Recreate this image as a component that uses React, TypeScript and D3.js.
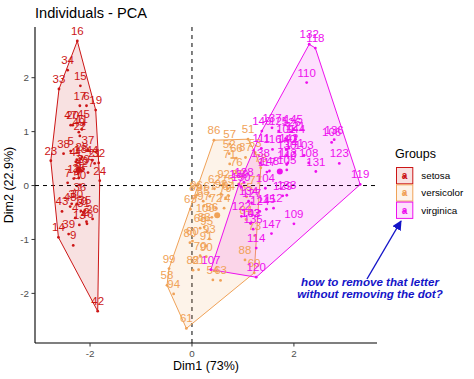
import React from "react";
import * as d3 from "d3";

// Individual coordinates (Dim1, Dim2) per species, observations 1-50, 51-100, 101-150
const setosaDim1 = [-2.26, -2.07, -2.36, -2.29, -2.38, -2.07, -2.44, -2.23, -2.33, -2.18,
  -2.16, -2.32, -2.21, -2.62, -2.19, -2.25, -2.20, -2.18, -1.89, -2.34,
  -1.91, -2.20, -2.77, -1.81, -2.22, -1.95, -2.04, -2.16, -2.13, -2.26,
  -2.13, -1.83, -2.61, -2.44, -2.10, -2.20, -2.04, -2.52, -2.42, -2.16,
  -2.28, -1.85, -2.55, -1.96, -2.13, -2.06, -2.38, -2.39, -2.22, -2.20];
const setosaDim2 = [0.48, -0.67, -0.34, -0.60, 0.64, 1.48, 0.05, 0.22, -1.11, -0.47,
  1.04, 0.13, -0.73, -0.96, 1.85, 2.68, 1.48, 0.49, 1.40, 1.12,
  0.41, 0.92, 0.46, 0.09, 0.14, -0.62, 0.24, 0.53, 0.31, -0.34,
  -0.50, 0.42, 1.79, 2.14, -0.46, -0.21, 0.66, 0.59, -0.90, 0.27,
  0.44, -2.33, -0.48, 0.47, 1.14, -0.71, 1.12, -0.39, 0.99, 0.01];
const versicolorDim1 = [1.10, 0.73, 1.24, 0.41, 1.07, 0.39, 0.74, -0.49, 0.92, 0.01,
  -0.11, 0.44, 0.56, 0.72, -0.03, 0.87, 0.35, 0.16, 1.22, 0.16,
  0.74, 0.47, 1.23, 0.63, 0.70, 0.87, 1.25, 1.35, 0.66, -0.04,
  0.13, 0.02, 0.24, 1.06, 0.22, 0.43, 1.05, 1.04, 0.07, 0.28,
  0.28, 0.62, 0.34, -0.36, 0.29, 0.09, 0.23, 0.57, -0.45, 0.26];
const versicolorDim2 = [0.86, 0.59, 0.61, -1.75, -0.21, -0.59, 0.77, -1.85, 0.03, -1.03,
  -2.65, -0.06, -1.76, -0.19, -0.44, 0.51, -0.20, -0.79, -1.62, -1.30,
  0.40, -0.42, -0.93, -0.42, -0.06, 0.25, -0.08, 0.33, -0.23, -1.06,
  -1.56, -1.57, -0.77, -0.63, -0.29, 0.84, 0.52, -1.38, -0.22, -1.32,
  -1.12, 0.02, -0.99, -2.01, -0.85, -0.18, -0.38, -0.15, -1.54, -0.60];
const virginicaDim1 = [1.84, 1.15, 2.20, 1.44, 1.86, 2.74, 0.37, 2.29, 2.00, 2.25,
  1.36, 1.60, 1.88, 1.26, 1.46, 1.58, 1.47, 2.42, 3.30, 1.26,
  2.03, 0.97, 2.89, 1.33, 1.70, 1.95, 1.17, 1.02, 1.78, 1.86,
  2.43, 2.30, 1.86, 1.11, 1.20, 2.79, 1.57, 1.34, 0.92, 1.85,
  2.01, 1.90, 1.15, 2.03, 1.99, 1.86, 1.56, 1.52, 1.37, 0.96];
const virginicaDim2 = [0.87, -0.70, 0.56, -0.05, 0.29, 0.80, -1.56, 0.42, -0.71, 1.91,
  0.69, -0.42, 0.42, -1.16, -0.44, 0.67, 0.25, 2.55, 0.02, -1.70,
  0.91, -0.57, 0.41, -0.48, 1.01, 1.00, -0.32, 0.06, -0.19, 0.56,
  0.26, 2.62, -0.18, -0.29, -0.81, 0.85, 1.07, 0.42, 0.02, 0.67,
  0.61, 0.69, -0.70, 0.86, 1.05, 0.39, -0.89, 0.27, 1.01, -0.02];

const groupNames = ["setosa", "versicolor", "virginica"];
const groupColors = ["#CC1616", "#F0A258", "#EE10EE"];
const groupFirstId = [1, 51, 101];
const xTicks = [-2, 0, 2];
const yTicks = [-2, -1, 0, 1, 2];
const titleText = "Individuals - PCA";
const xLabel = "Dim1 (73%)";
const yLabel = "Dim2 (22.9%)";
const legendTitle = "Groups";
const noteLines = ["how to remove that letter", "without removing the dot?"];

const FONT = "'Liberation Sans', Arial, Helvetica, sans-serif";

export default function App() {
  const W = 474, H = 379;
  const x = d3.scaleLinear().domain([-3.08, 3.63]).range([35, 377]);
  const y = d3.scaleLinear().domain([-2.92, 2.94]).range([343, 27]);

  const dims = [
    [setosaDim1, setosaDim2],
    [versicolorDim1, versicolorDim2],
    [virginicaDim1, virginicaDim2],
  ];
  const groups = groupNames.map((name, g) => {
    const [d1, d2] = dims[g];
    const pts = d1.map((v, i) => ({ id: groupFirstId[g] + i, px: x(v), py: y(d2[i]) }));
    const hull = d3.polygonHull(pts.map((p) => [p.px, p.py] as [number, number])) || [];
    return {
      name,
      color: groupColors[g],
      pts,
      hull,
      mx: x(d3.mean(d1) as number),
      my: y(d3.mean(d2) as number),
    };
  });

  const x0 = x(0), y0 = y(0);
  const [xl, xr] = x.range();
  const [yb, yt] = y.range();

  const legendX = 396, legendY0 = 167, keySize = 17.3;

  return (
    <svg width={W} height={H} style={{ position: "absolute", left: 0, top: 0, background: "#fff" }} fontFamily={FONT}>
      <defs>
        <marker id="arr" viewBox="0 0 10 10" refX="9" refY="5" markerWidth="7" markerHeight="7" orient="auto-start-reverse">
          <path d="M0,0 L10,5 L0,10 z" fill="#1414C8" />
        </marker>
      </defs>
      {/* title */}
      <text x={35} y={18} fontSize={14.6} fill="#000">{titleText}</text>

      {/* reference lines */}
      <line x1={xl} x2={xr} y1={y0} y2={y0} stroke="#000" strokeWidth={1} strokeDasharray="4,4" />
      <line x1={x0} x2={x0} y1={yt} y2={yb} stroke="#000" strokeWidth={1} strokeDasharray="4,4" />

      {/* hulls */}
      {groups.map((g) => (
        <path key={"h" + g.name}
          d={"M" + g.hull.map((p) => p[0].toFixed(1) + "," + p[1].toFixed(1)).join("L") + "Z"}
          fill={g.color} fillOpacity={0.13} stroke={g.color} strokeWidth={1} />
      ))}

      {/* points + labels */}
      {groups.map((g) => (
        <g key={"p" + g.name}>
          {g.pts.map((p) => (
            <g key={p.id}>
              <circle cx={p.px} cy={p.py} r={1.4} fill={g.color} />
              <text x={p.px} y={p.py - 6} fontSize={11.5} textAnchor="middle" fill={g.color}>{p.id}</text>
            </g>
          ))}
          <circle cx={g.mx} cy={g.my} r={3} fill={g.color} />
        </g>
      ))}

      {/* axes */}
      <line x1={xl} x2={xr} y1={yb} y2={yb} stroke="#000" strokeWidth={1.1} />
      <line x1={xl} x2={xl} y1={yt} y2={yb} stroke="#000" strokeWidth={1.1} />
      {xTicks.map((t) => (
        <g key={"xt" + t}>
          <line x1={x(t)} x2={x(t)} y1={yb} y2={yb + 3.5} stroke="#333" />
          <text x={x(t)} y={yb + 13.5} fontSize={9.8} textAnchor="middle" fill="#4D4D4D">{t}</text>
        </g>
      ))}
      {yTicks.map((t) => (
        <g key={"yt" + t}>
          <line x1={xl - 3.5} x2={xl} y1={y(t)} y2={y(t)} stroke="#333" />
          <text x={xl - 6} y={y(t) + 3.5} fontSize={9.8} textAnchor="end" fill="#4D4D4D">{t}</text>
        </g>
      ))}
      <text x={(xl + xr) / 2} y={370} fontSize={12.5} textAnchor="middle" fill="#000">{xLabel}</text>
      <text transform={`translate(13,${(yt + yb) / 2}) rotate(-90)`} fontSize={12.5} textAnchor="middle" fill="#000">{yLabel}</text>

      {/* legend */}
      <text x={legendX - 1} y={158} fontSize={12.5} fill="#000">{legendTitle}</text>
      {groups.map((g, i) => {
        const ky = legendY0 + i * keySize;
        return (
          <g key={"l" + g.name}>
            <rect x={legendX + 0.5} y={ky + 0.5} width={keySize - 1} height={keySize - 1}
              fill={g.color} fillOpacity={0.13} stroke={g.color} strokeWidth={1} />
            <text x={legendX + keySize / 2} y={ky + keySize / 2 + 3.5} fontSize={10} fontWeight="bold" textAnchor="middle" fill={g.color}>a</text>
            <circle cx={legendX + keySize / 2} cy={ky + keySize / 2 + 1} r={1.4} fill={g.color} />
            <text x={legendX + keySize + 8} y={ky + keySize / 2 + 3.5} fontSize={9.8} fill="#000">{g.name}</text>
          </g>
        );
      })}

      {/* annotation */}
      <line x1={367} y1={279} x2={401} y2={221} stroke="#1414C8" strokeWidth={1.4} markerEnd="url(#arr)" />
      {noteLines.map((s, i) => (
        <text key={s} x={370} y={286 + i * 12} fontSize={11.6} fontStyle="italic" fontWeight="bold"
          textAnchor="middle" fill="#1414C8">{s}</text>
      ))}
    </svg>
  );
}
